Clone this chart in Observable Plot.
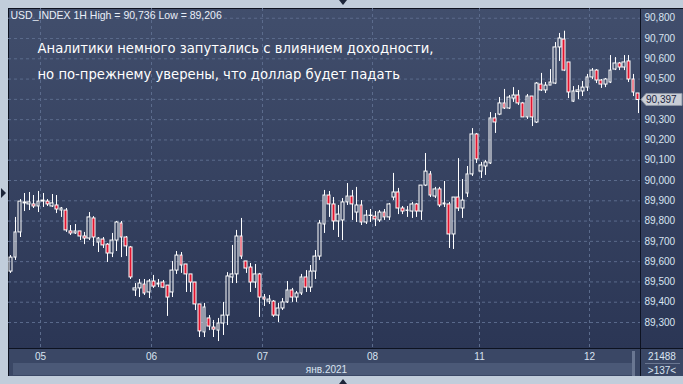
<!DOCTYPE html>
<html>
<head>
<meta charset="utf-8">
<script src="https://cdn.jsdelivr.net/npm/d3@7"></script>
<script src="https://cdn.jsdelivr.net/npm/@observablehq/plot@0.6"></script>
<style>
  html, body { margin: 0; padding: 0; background: #c1cddb; }
  #chart { width: 683px; height: 384px; overflow: hidden; }
</style>
</head>
<body>
<div id="chart"></div>
<script>
// USD_INDEX, hourly bars, 4–12 Jan 2021 (137 bars)
const opens = [
  89551, 89620, 89744, 89887, 89882, 89882, 89872, 89896, 89896, 89872,
  89877, 89852, 89852, 89749, 89739, 89749, 89724, 89714, 89813, 89694,
  89709, 89684, 89640, 89704, 89788, 89719, 89670, 89458, 89468, 89487,
  89448, 89502, 89487, 89497, 89482, 89448, 89556, 89630, 89586, 89537,
  89497, 89389, 89251, 89320, 89275, 89260, 89295, 89334, 89522, 89537,
  89724, 89601, 89571, 89497, 89537, 89423, 89403, 89403, 89334, 89369,
  89399, 89458, 89423, 89443, 89522, 89472, 89551, 89625, 89783, 89926,
  89882, 89798, 89803, 89892, 89921, 89842, 89877, 89793, 89825, 89822,
  89803, 89842, 89818, 89916, 89941, 89862, 89850, 89847, 89882, 89847,
  89975, 90030, 89921, 89956, 89887, 89882, 89734, 89916, 89862, 89936,
  90030, 90227, 90044, 90069, 90084, 90306, 90325, 90380, 90355, 90404,
  90419, 90380, 90311, 90414, 90286, 90473, 90444, 90468, 90478, 90656,
  90695, 90582, 90389, 90436, 90439, 90458, 90508, 90542, 90493, 90473,
  90483, 90547, 90577, 90557, 90587, 90498, 90429
];
const highs = [
  89630, 89818, 89906, 89936, 89941, 89926, 89946, 89936, 89906, 89931,
  89926, 89867, 89862, 89778, 89783, 89749, 89744, 89842, 89822, 89719,
  89719, 89689, 89739, 89798, 89798, 89724, 89675, 89492, 89512, 89512,
  89512, 89532, 89512, 89507, 89482, 89601, 89650, 89645, 89586, 89537,
  89497, 89389, 89394, 89334, 89310, 89320, 89399, 89546, 89680, 89754,
  89813, 89601, 89591, 89586, 89542, 89438, 89433, 89408, 89394, 89418,
  89502, 89468, 89453, 89537, 89556, 89581, 89655, 89803, 89951, 89946,
  89916, 89877, 89911, 89985, 89951, 89966, 89901, 89852, 89857, 89847,
  89852, 89857, 89887, 90035, 89961, 89872, 89872, 89892, 89887, 89975,
  90133, 90044, 89966, 89966, 89995, 89892, 89916, 90108, 90005, 90069,
  90256, 90232, 90089, 90099, 90335, 90330, 90409, 90449, 90419, 90458,
  90444, 90385, 90424, 90414, 90483, 90528, 90483, 90547, 90680, 90725,
  90736, 90582, 90463, 90468, 90488, 90523, 90552, 90547, 90498, 90503,
  90616, 90606, 90582, 90616, 90616, 90523, 90429
];
const lows = [
  89542, 89606, 89719, 89847, 89852, 89862, 89842, 89867, 89872, 89867,
  89837, 89818, 89744, 89729, 89734, 89704, 89684, 89704, 89675, 89645,
  89665, 89596, 89620, 89650, 89620, 89625, 89512, 89428, 89423, 89433,
  89418, 89468, 89472, 89468, 89330, 89423, 89537, 89542, 89448, 89448,
  89359, 89226, 89226, 89260, 89226, 89206, 89236, 89285, 89492, 89492,
  89611, 89542, 89448, 89468, 89325, 89379, 89389, 89325, 89300, 89359,
  89394, 89399, 89399, 89433, 89448, 89448, 89512, 89606, 89739, 89818,
  89754, 89719, 89704, 89877, 89803, 89793, 89778, 89783, 89793, 89773,
  89793, 89803, 89803, 89901, 89832, 89832, 89818, 89813, 89818, 89803,
  89970, 89916, 89911, 89867, 89867, 89665, 89660, 89847, 89813, 89916,
  90020, 90084, 90010, 90025, 90079, 90232, 90320, 90350, 90350, 90385,
  90370, 90311, 90301, 90266, 90281, 90439, 90429, 90468, 90473, 90587,
  90537, 90404, 90385, 90399, 90414, 90439, 90498, 90478, 90454, 90458,
  90478, 90542, 90542, 90542, 90483, 90414, 90330
];
const closes = [
  89620, 89744, 89896, 89892, 89892, 89872, 89896, 89901, 89882, 89887,
  89857, 89862, 89754, 89739, 89749, 89724, 89714, 89818, 89719, 89714,
  89680, 89640, 89704, 89793, 89719, 89675, 89522, 89468, 89492, 89443,
  89502, 89477, 89492, 89472, 89423, 89556, 89630, 89581, 89537, 89497,
  89389, 89256, 89374, 89280, 89265, 89295, 89334, 89527, 89537, 89724,
  89625, 89566, 89497, 89537, 89423, 89413, 89413, 89334, 89369, 89399,
  89458, 89423, 89443, 89522, 89472, 89551, 89625, 89788, 89926, 89882,
  89798, 89832, 89892, 89921, 89882, 89877, 89793, 89827, 89827, 89808,
  89842, 89818, 89882, 89941, 89862, 89847, 89852, 89882, 89847, 89975,
  90044, 89926, 89956, 89877, 89882, 89734, 89916, 89862, 89901, 90030,
  90227, 90104, 90074, 90089, 90306, 90286, 90380, 90355, 90409, 90419,
  90380, 90311, 90414, 90311, 90478, 90444, 90468, 90483, 90656, 90700,
  90542, 90434, 90439, 90444, 90458, 90508, 90542, 90493, 90473, 90498,
  90542, 90577, 90557, 90582, 90498, 90434, 90397
];

// Bar index where each trading day starts, and its label
const dayStarts = [7, 31, 55, 79, 102, 126];
const dayLabels = ["05", "06", "07", "08", "11", "12"];
const priceTicks = d3.range(89300, 90801, 100);
const monthLabel = "янв.2021";
const title = "USD_INDEX 1H High = 90,736 Low = 89,206";
const noteLines = [
  "Аналитики немного запутались с влиянием доходности,",
  "но по-прежнему уверены, что доллар будет падать"
];
const volumeLabel = "21488";
const barsLabel = ">137<";

const candles = opens.map((o, i) => ({
  i, open: o, high: highs[i], low: lows[i], close: closes[i], up: closes[i] >= o
}));
const last = candles[candles.length - 1];

const W = 683, H = 384;
const fmt = d3.format(",");
const dayName = new Map(dayStarts.map((d, k) => [d, dayLabels[k]]));
const RED = "#e0142f";
const GRID = "#5b6b8c";
const AXIS_TEXT = "#d9e4f1";
const NOTE_FONT = "'DejaVu Sans', Verdana, sans-serif";

// price labels hidden under the last-price tag are left out
const labelTicks = priceTicks.filter(t => Math.abs(t - last.close) > 40);

const chart = Plot.plot({
  width: W,
  height: H,
  marginLeft: 8,
  marginRight: 43,
  marginTop: 8,
  marginBottom: 36,
  style: {
    background: "#c1cddb",
    fontFamily: "'Liberation Sans', Arial, sans-serif",
    fontSize: "10px",
    color: AXIS_TEXT
  },
  x: { domain: [0, candles.length], round: true },
  y: { domain: [89171.8, 90848] },
  marks: [
    Plot.gridY(priceTicks, { stroke: GRID, strokeOpacity: 1, strokeDasharray: "3,3" }),
    Plot.gridX(dayStarts, { stroke: GRID, strokeOpacity: 1, strokeDasharray: "3,3" }),
    Plot.axisY(labelTicks, {
      anchor: "right", tickSize: 0, tickPadding: 4, tickFormat: fmt,
      fill: AXIS_TEXT, label: null, fontSize: 10
    }),
    Plot.axisX(dayStarts, {
      anchor: "bottom", tickSize: 0, tickPadding: 4,
      tickFormat: d => dayName.get(d), fill: AXIS_TEXT, label: null, fontSize: 10
    }),
    // wicks above and below each body
    Plot.ruleX(candles, {
      x: d => d.i + 0.5, y1: d => d.high, y2: d => Math.max(d.open, d.close),
      stroke: "white", strokeWidth: 1
    }),
    Plot.ruleX(candles, {
      x: d => d.i + 0.5, y1: d => Math.min(d.open, d.close), y2: d => d.low,
      stroke: "white", strokeWidth: 1
    }),
    // bodies: hollow when rising, red when falling
    Plot.rect(candles, {
      x1: d => d.i + 0.2, x2: d => d.i + 0.8,
      y1: d => d.open, y2: d => d.close,
      fill: d => (d.up ? "none" : RED), stroke: "white", strokeWidth: 1
    }),
    Plot.text([title], {
      frameAnchor: "top-left", dx: 2, dy: 7, lineAnchor: "middle",
      fill: "#e9eff8", fontSize: 10.5
    }),
    Plot.text([noteLines[0]], {
      frameAnchor: "top-left", dx: 29, dy: 40, lineAnchor: "middle",
      fill: "white", fontSize: 13.2, fontFamily: NOTE_FONT
    }),
    Plot.text([noteLines[1]], {
      frameAnchor: "top-left", dx: 29, dy: 66, lineAnchor: "middle",
      fill: "white", fontSize: 13.2, fontFamily: NOTE_FONT
    }),
    Plot.text([monthLabel], {
      frameAnchor: "bottom", dx: 2, dy: 21, lineAnchor: "middle",
      fill: AXIS_TEXT, fontSize: 10
    })
  ]
});

// Terminal-style chrome: panel gradient, bottom bands, borders, markers
const svg = d3.select(chart);
const defs = svg.insert("defs", ":first-child");
const grad = defs.append("linearGradient")
  .attr("id", "panelGrad").attr("x1", 0).attr("y1", 0).attr("x2", 0).attr("y2", 1);
grad.append("stop").attr("offset", "0%").attr("stop-color", "#414e6c");
grad.append("stop").attr("offset", "100%").attr("stop-color", "#2b3655");

const chrome = d3.create("svg:g");
chart.insertBefore(chrome.node(), defs.node().nextSibling);
chrome.append("rect").attr("x", 8).attr("y", 8).attr("width", W - 8).attr("height", 340)
  .attr("fill", "url(#panelGrad)");
chrome.append("rect").attr("x", 8).attr("y", 348).attr("width", W - 8).attr("height", 28)
  .attr("fill", "#3a4765");
chrome.append("rect").attr("x", 13).attr("y", 363).attr("width", 620).attr("height", 12)
  .attr("fill", "#4b5977");
chrome.append("rect").attr("x", 632).attr("y", 351).attr("width", 3).attr("height", 25)
  .attr("fill", "#6a7792");

const lines = chrome.append("g").attr("stroke", "#0d1220").attr("stroke-width", 1);
lines.append("line").attr("x1", 8).attr("x2", W).attr("y1", 8.5).attr("y2", 8.5);
lines.append("line").attr("x1", 8.5).attr("x2", 8.5).attr("y1", 8).attr("y2", 376);
lines.append("line").attr("x1", 8).attr("x2", W).attr("y1", 348.5).attr("y2", 348.5);
lines.append("line").attr("x1", 640.5).attr("x2", 640.5).attr("y1", 8).attr("y2", 376);

const markers = chrome.append("g").attr("fill", "#1c2539");
markers.append("path").attr("d", "M339,0 L347,0 L343,5 Z");
markers.append("path").attr("d", "M339,384 L347,384 L343,379 Z");
markers.append("path").attr("d", "M1,188 L1,198 L6,193 Z");

// bottom-right counters
const info = svg.append("g").attr("font-family", "'Liberation Sans', Arial, sans-serif")
  .attr("font-size", 10).attr("fill", AXIS_TEXT).attr("text-anchor", "middle");
info.append("text").attr("x", 662).attr("y", 360).text(volumeLabel);
info.append("line").attr("x1", 645).attr("x2", 680).attr("y1", 363.5).attr("y2", 363.5)
  .attr("stroke", "#6a7792");
info.append("text").attr("x", 662).attr("y", 374).text(barsLabel);

// last price tag on the price axis
const yLast = chart.scale("y").apply(last.close);
const tag = svg.append("g");
tag.append("path")
  .attr("d", `M641,${yLast} L646,${yLast - 6} L682,${yLast - 6} L682,${yLast + 6} L646,${yLast + 6} Z`)
  .attr("fill", "#c9ced6").attr("stroke", "#8d97a6");
tag.append("text").attr("x", 646).attr("y", yLast).attr("dy", "0.35em")
  .attr("text-anchor", "start")
  .attr("font-family", "'Liberation Sans', Arial, sans-serif").attr("font-size", 10)
  .attr("fill", "#1a2440").text(fmt(last.close));

document.getElementById("chart").appendChild(chart);
</script>
</body>
</html>
